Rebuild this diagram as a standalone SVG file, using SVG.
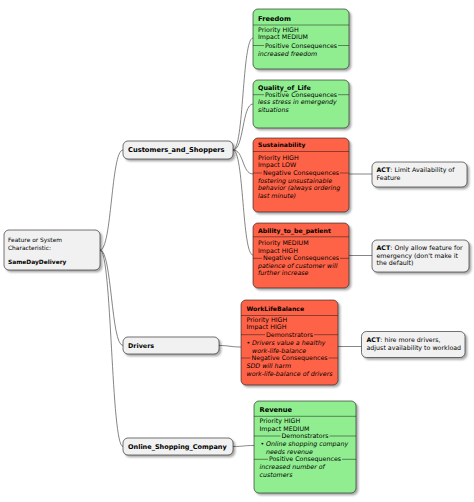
<svg xmlns="http://www.w3.org/2000/svg" width="474" height="502" viewBox="0 0 474 502">
<defs>
<filter id="sh" x="-10%" y="-10%" width="130%" height="130%">
<feGaussianBlur in="SourceAlpha" stdDeviation="1"/>
<feOffset dx="1.5" dy="1.5" result="b"/>
<feComponentTransfer><feFuncA type="linear" slope="0.35"/></feComponentTransfer>
<feMerge><feMergeNode/><feMergeNode in="SourceGraphic"/></feMerge>
</filter>
<style>
text{font-family:"DejaVu Sans","Liberation Sans",sans-serif;font-size:6.3px;fill:#000}
.t{font-weight:bold;font-size:6.4px}
.i{font-style:italic}
.c{text-anchor:middle}
.g{fill:#90EE90;stroke:#181818;stroke-width:0.6}
.r{fill:#FF6347;stroke:#181818;stroke-width:0.6}
.w{fill:#F1F1F1;stroke:#181818;stroke-width:0.6}
.sep{stroke:#181818;stroke-width:0.5;fill:none}
.con{stroke:#666;stroke-width:0.8;fill:none}
.rt{font-size:5.9px}
</style>
</defs>
<g id="connectors">
<path class="con" d="M100,250 C112,250 111,150 123,150"/>
<path class="con" d="M100,250 C112,250 111,345.5 123,345.5"/>
<path class="con" d="M100,250 C112,250 111,446.5 123,446.5"/>
<path class="con" d="M233,150 C244,150 242,38 253,38"/>
<path class="con" d="M233,150 C244,150 242,104 253,104"/>
<path class="con" d="M233,150 C244,150 242,174 253,174"/>
<path class="con" d="M233,150 C244,150 242,255 253,255"/>
<path class="con" d="M349,174 L372,174"/>
<path class="con" d="M349,255.5 L372,255.5"/>
<path class="con" d="M219,345.5 C230,345.5 230,347 241,347"/>
<path class="con" d="M338,346.5 L361.5,346.5"/>
<path class="con" d="M233,446.5 C244,446.5 243,445.5 254,445.5"/>
</g>
<g id="root">
<rect class="w" x="4" y="230" width="96" height="40" rx="5" filter="url(#sh)"/>
<text class="rt" x="8" y="241.5">Feature or System</text>
<text class="rt" x="8" y="250">Characteristic:</text>
<text class="rt t" x="8" y="263.5" style="font-size:5.9px">SameDayDelivery</text>
</g>
<g id="customers">
<rect class="w" x="123" y="141" width="110" height="18" rx="5" filter="url(#sh)"/>
<text class="t" x="128" y="152.3" style="font-size:6.7px">Customers_and_Shoppers</text>
</g>
<g id="drivers">
<rect class="w" x="123" y="337" width="96" height="17" rx="5" filter="url(#sh)"/>
<text class="t" x="128" y="347.5">Drivers</text>
</g>
<g id="online">
<rect class="w" x="123" y="438" width="110" height="17" rx="5" filter="url(#sh)"/>
<text class="t" x="128" y="449" style="font-size:6.5px">Online_Shopping_Company</text>
</g>
<g id="freedom">
<rect class="g" x="253" y="9" width="96" height="60" rx="5" filter="url(#sh)"/>
<text class="t" x="258" y="21" style="font-size:6.7px">Freedom</text>
<line class="sep" x1="253" y1="25" x2="349" y2="25"/>
<text x="258" y="31.7">Priority HIGH</text>
<text x="258" y="39.3">Impact MEDIUM</text>
<line class="sep" x1="253" y1="45.5" x2="264" y2="45.5"/>
<line class="sep" x1="338" y1="45.5" x2="349" y2="45.5"/>
<text class="c" x="301" y="47.5">Positive Consequences</text>
<text class="i" x="258" y="55.5">increased freedom</text>
</g>
<g id="quality">
<rect class="g" x="253" y="80" width="96" height="48" rx="5" filter="url(#sh)"/>
<text class="t" x="258" y="90">Quality_of_Life</text>
<line class="sep" x1="253" y1="94.7" x2="264" y2="94.7"/>
<line class="sep" x1="338" y1="94.7" x2="349" y2="94.7"/>
<text class="c" x="301" y="96.7">Positive Consequences</text>
<text class="i" x="258" y="104.3">less stress in emergendy</text>
<text class="i" x="258" y="111.7">situations</text>
</g>
<g id="sustainability">
<rect class="r" x="253" y="138" width="96" height="74" rx="5" filter="url(#sh)"/>
<text class="t" x="258" y="146.7" style="font-size:6.1px">Sustainability</text>
<line class="sep" x1="253" y1="151.5" x2="349" y2="151.5"/>
<text x="258" y="159.5">Priority HIGH</text>
<text x="258" y="167.3">Impact LOW</text>
<line class="sep" x1="253" y1="173" x2="262" y2="173"/>
<line class="sep" x1="340" y1="173" x2="349" y2="173"/>
<text class="c" x="301" y="175">Negative Consequences</text>
<text class="i" x="258" y="182.5">fostering unsustainable</text>
<text class="i" x="258" y="190">behavior (always ordering</text>
<text class="i" x="258" y="197.7">last minute)</text>
</g>
<g id="ability">
<rect class="r" x="253" y="223" width="96" height="65" rx="5" filter="url(#sh)"/>
<text class="t" x="258" y="232.5" style="font-size:6.2px">Ability_to_be_patient</text>
<line class="sep" x1="253" y1="236.8" x2="349" y2="236.8"/>
<text x="258" y="245">Priority MEDIUM</text>
<text x="258" y="252.7">Impact HIGH</text>
<line class="sep" x1="253" y1="258.3" x2="262" y2="258.3"/>
<line class="sep" x1="340" y1="258.3" x2="349" y2="258.3"/>
<text class="c" x="301" y="260.3">Negative Consequences</text>
<text class="i" x="258" y="267.5">patience of customer will</text>
<text class="i" x="258" y="275">further increase</text>
</g>
<g id="worklifebalance">
<rect class="r" x="241" y="300" width="97" height="85" rx="5" filter="url(#sh)"/>
<text class="t" x="246.5" y="311" style="font-size:6.1px">WorkLifeBalance</text>
<line class="sep" x1="241" y1="315.5" x2="338" y2="315.5"/>
<text x="246.5" y="321.7">Priority HIGH</text>
<text x="246.5" y="329.3">Impact HIGH</text>
<line class="sep" x1="241" y1="334.7" x2="265" y2="334.7"/>
<line class="sep" x1="314" y1="334.7" x2="338" y2="334.7"/>
<text class="c" x="289.5" y="336.7">Demonstrators</text>
<text x="246.5" y="345">•</text>
<text class="i" x="252" y="345">Drivers value a healthy</text>
<text class="i" x="252" y="352.5">work-life-balance</text>
<line class="sep" x1="241" y1="358" x2="250.5" y2="358"/>
<line class="sep" x1="328.5" y1="358" x2="338" y2="358"/>
<text class="c" x="289.5" y="360">Negative Consequences</text>
<text class="i" x="246.5" y="367.7">SDD will harm</text>
<text class="i" x="246.5" y="375.5">work-life-balance of drivers</text>
</g>
<g id="revenue">
<rect class="g" x="254" y="401" width="102" height="92" rx="5" filter="url(#sh)"/>
<text class="t" x="259.5" y="412" style="font-size:6.7px">Revenue</text>
<line class="sep" x1="254" y1="416.3" x2="356" y2="416.3"/>
<text x="259.5" y="423">Priority HIGH</text>
<text x="259.5" y="430.7">Impact MEDIUM</text>
<line class="sep" x1="254" y1="436" x2="280.5" y2="436"/>
<line class="sep" x1="329.5" y1="436" x2="356" y2="436"/>
<text class="c" x="305" y="438">Demonstrators</text>
<text x="260.5" y="446.3">•</text>
<text class="i" x="266" y="446.3">Online shopping company</text>
<text class="i" x="266" y="454">needs revenue</text>
<line class="sep" x1="254" y1="459.3" x2="268" y2="459.3"/>
<line class="sep" x1="342" y1="459.3" x2="356" y2="459.3"/>
<text class="c" x="305" y="461.3">Positive Consequences</text>
<text class="i" x="259.5" y="469">increased number of</text>
<text class="i" x="259.5" y="476.5">customers</text>
</g>
<g id="act1">
<rect class="w" x="372" y="162" width="95" height="25" rx="5" filter="url(#sh)"/>
<text x="376.5" y="171.7"><tspan font-weight="bold">ACT</tspan>: Limit Availability of</text>
<text x="376.5" y="179.5">Feature</text>
</g>
<g id="act2">
<rect class="w" x="372" y="240" width="97" height="32" rx="5" filter="url(#sh)"/>
<text x="376.5" y="250"><tspan font-weight="bold">ACT</tspan>: Only allow feature for</text>
<text x="376.5" y="257.5">emergency (don't make it</text>
<text x="376.5" y="265">the default)</text>
</g>
<g id="act3">
<rect class="w" x="361.5" y="331.5" width="103.5" height="26" rx="5" filter="url(#sh)"/>
<text x="366.5" y="341.7"><tspan font-weight="bold">ACT</tspan>: hire more drivers,</text>
<text x="366.5" y="350">adjust availability to workload</text>
</g>
</svg>
